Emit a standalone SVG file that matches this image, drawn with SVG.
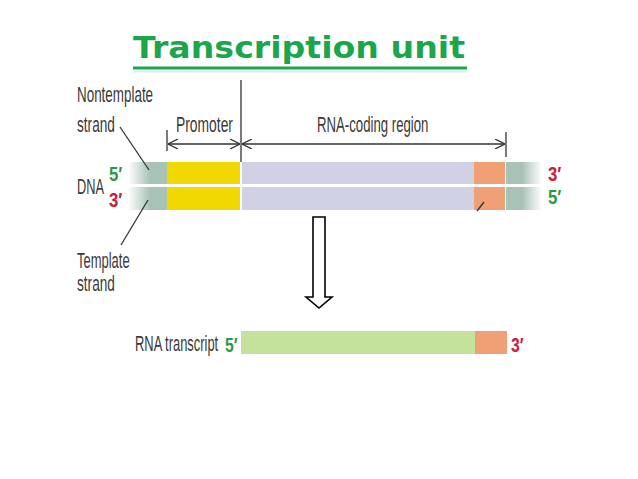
<svg xmlns="http://www.w3.org/2000/svg" width="638" height="479" viewBox="0 0 638 479">
<defs>
<style>
.lbl{font-family:"Liberation Sans",Arial,sans-serif;fill:#3a3a3a;font-size:22px}
.p5{font-family:"Liberation Sans",Arial,sans-serif;fill:#2a9a48;font-size:21px;font-weight:bold}
.p3{font-family:"Liberation Sans",Arial,sans-serif;fill:#c8203c;font-size:21px;font-weight:bold}
.ln{stroke:#333;stroke-width:1.3;fill:none}
</style>
<linearGradient id="fadeL" x1="128" y1="0" x2="150" y2="0" gradientUnits="userSpaceOnUse">
<stop offset="0" stop-color="#a9c2b6" stop-opacity="0"/>
<stop offset="1" stop-color="#a9c2b6" stop-opacity="1"/>
</linearGradient>
<linearGradient id="fadeR" x1="522" y1="0" x2="542" y2="0" gradientUnits="userSpaceOnUse">
<stop offset="0" stop-color="#a9c2b6" stop-opacity="1"/>
<stop offset="1" stop-color="#a9c2b6" stop-opacity="0"/>
</linearGradient>
<marker id="chev" viewBox="0 0 10 10" refX="10" refY="5" markerWidth="10" markerHeight="10" markerUnits="userSpaceOnUse" orient="auto-start-reverse">
<path d="M0,0 L10,5 L0,10" fill="none" stroke="#333" stroke-width="1.3"/>
</marker>
</defs>
<rect width="638" height="479" fill="#fff"/>

<g id="title">
<text x="133" y="58" font-family="'DejaVu Sans',sans-serif" font-weight="bold" font-size="31" fill="#1ca64b" textLength="332" lengthAdjust="spacingAndGlyphs">Transcription unit</text>
<line x1="133" y1="68" x2="467" y2="68" stroke="#1ca64b" stroke-width="3"/>
<line x1="133" y1="71.5" x2="467" y2="71.5" stroke="#d6f4ec" stroke-width="2"/>
</g>

<g id="dna">
<rect x="128" y="162" width="39" height="22" fill="url(#fadeL)"/>
<rect x="128" y="187" width="39" height="23" fill="url(#fadeL)"/>
<rect x="167" y="162" width="73" height="22" fill="#f1d800"/>
<rect x="167" y="187" width="73" height="23" fill="#f1d800"/>
<rect x="242" y="162" width="232" height="22" fill="#d1d1e6"/>
<rect x="242" y="187" width="232" height="23" fill="#d1d1e6"/>
<rect x="474" y="162" width="31" height="22" fill="#f0a074"/>
<rect x="474" y="187" width="31" height="23" fill="#f0a074"/>
<rect x="506" y="162" width="36" height="22" fill="url(#fadeR)"/>
<rect x="506" y="187" width="36" height="23" fill="url(#fadeR)"/>
<text class="lbl" transform="translate(77,194) scale(0.58,1)">DNA</text>
<text class="p5" transform="translate(109,181) scale(0.8,1)">5′</text>
<text class="p3" transform="translate(109,207) scale(0.8,1)">3′</text>
<text class="p3" transform="translate(548,181) scale(0.8,1)">3′</text>
<text class="p5" transform="translate(548,204) scale(0.8,1)">5′</text>
</g>

<g id="nontemplate">
<text class="lbl" transform="translate(77,102) scale(0.61,1)">Nontemplate</text>
<text class="lbl" transform="translate(77,132) scale(0.62,1)">strand</text>
</g>

<g id="template">
<text class="lbl" transform="translate(77,268) scale(0.59,1)">Template</text>
<text class="lbl" transform="translate(77,291) scale(0.62,1)">strand</text>
</g>

<g id="promoter">
<text class="lbl" transform="translate(176,132) scale(0.63,1)">Promoter</text>
</g>

<g id="coding">
<text class="lbl" transform="translate(317,132) scale(0.6,1)">RNA-coding region</text>
</g>

<g id="rna">
<text class="lbl" transform="translate(135,351) scale(0.587,1)">RNA transcript</text>
<text class="p5" transform="translate(225,352) scale(0.75,1)">5′</text>
<rect x="241" y="331" width="234" height="23" fill="#c5e29d"/>
<rect x="475" y="331" width="32" height="23" fill="#f0a074"/>
<text class="p3" transform="translate(511,352) scale(0.75,1)">3′</text>
</g>

<g id="connectors">
<line class="ln" x1="120" y1="127" x2="149" y2="170"/>
<line class="ln" x1="148" y1="200" x2="121" y2="245"/>
<line class="ln" x1="477" y1="211" x2="484" y2="202"/>
<line class="ln" x1="167" y1="130" x2="167" y2="151"/>
<line class="ln" x1="241" y1="80" x2="241" y2="162"/>
<line class="ln" x1="506" y1="132" x2="506" y2="157"/>
<line class="ln" x1="168" y1="144" x2="240" y2="144" marker-start="url(#chev)" marker-end="url(#chev)"/>
<line class="ln" x1="242" y1="144" x2="505" y2="144" marker-start="url(#chev)" marker-end="url(#chev)"/>
<path d="M313,217 L325,217 L325,297 L332,297 L319,308 L306,297 L313,297 Z" fill="#fff" stroke="#000" stroke-width="1.6"/>
</g>
</svg>
